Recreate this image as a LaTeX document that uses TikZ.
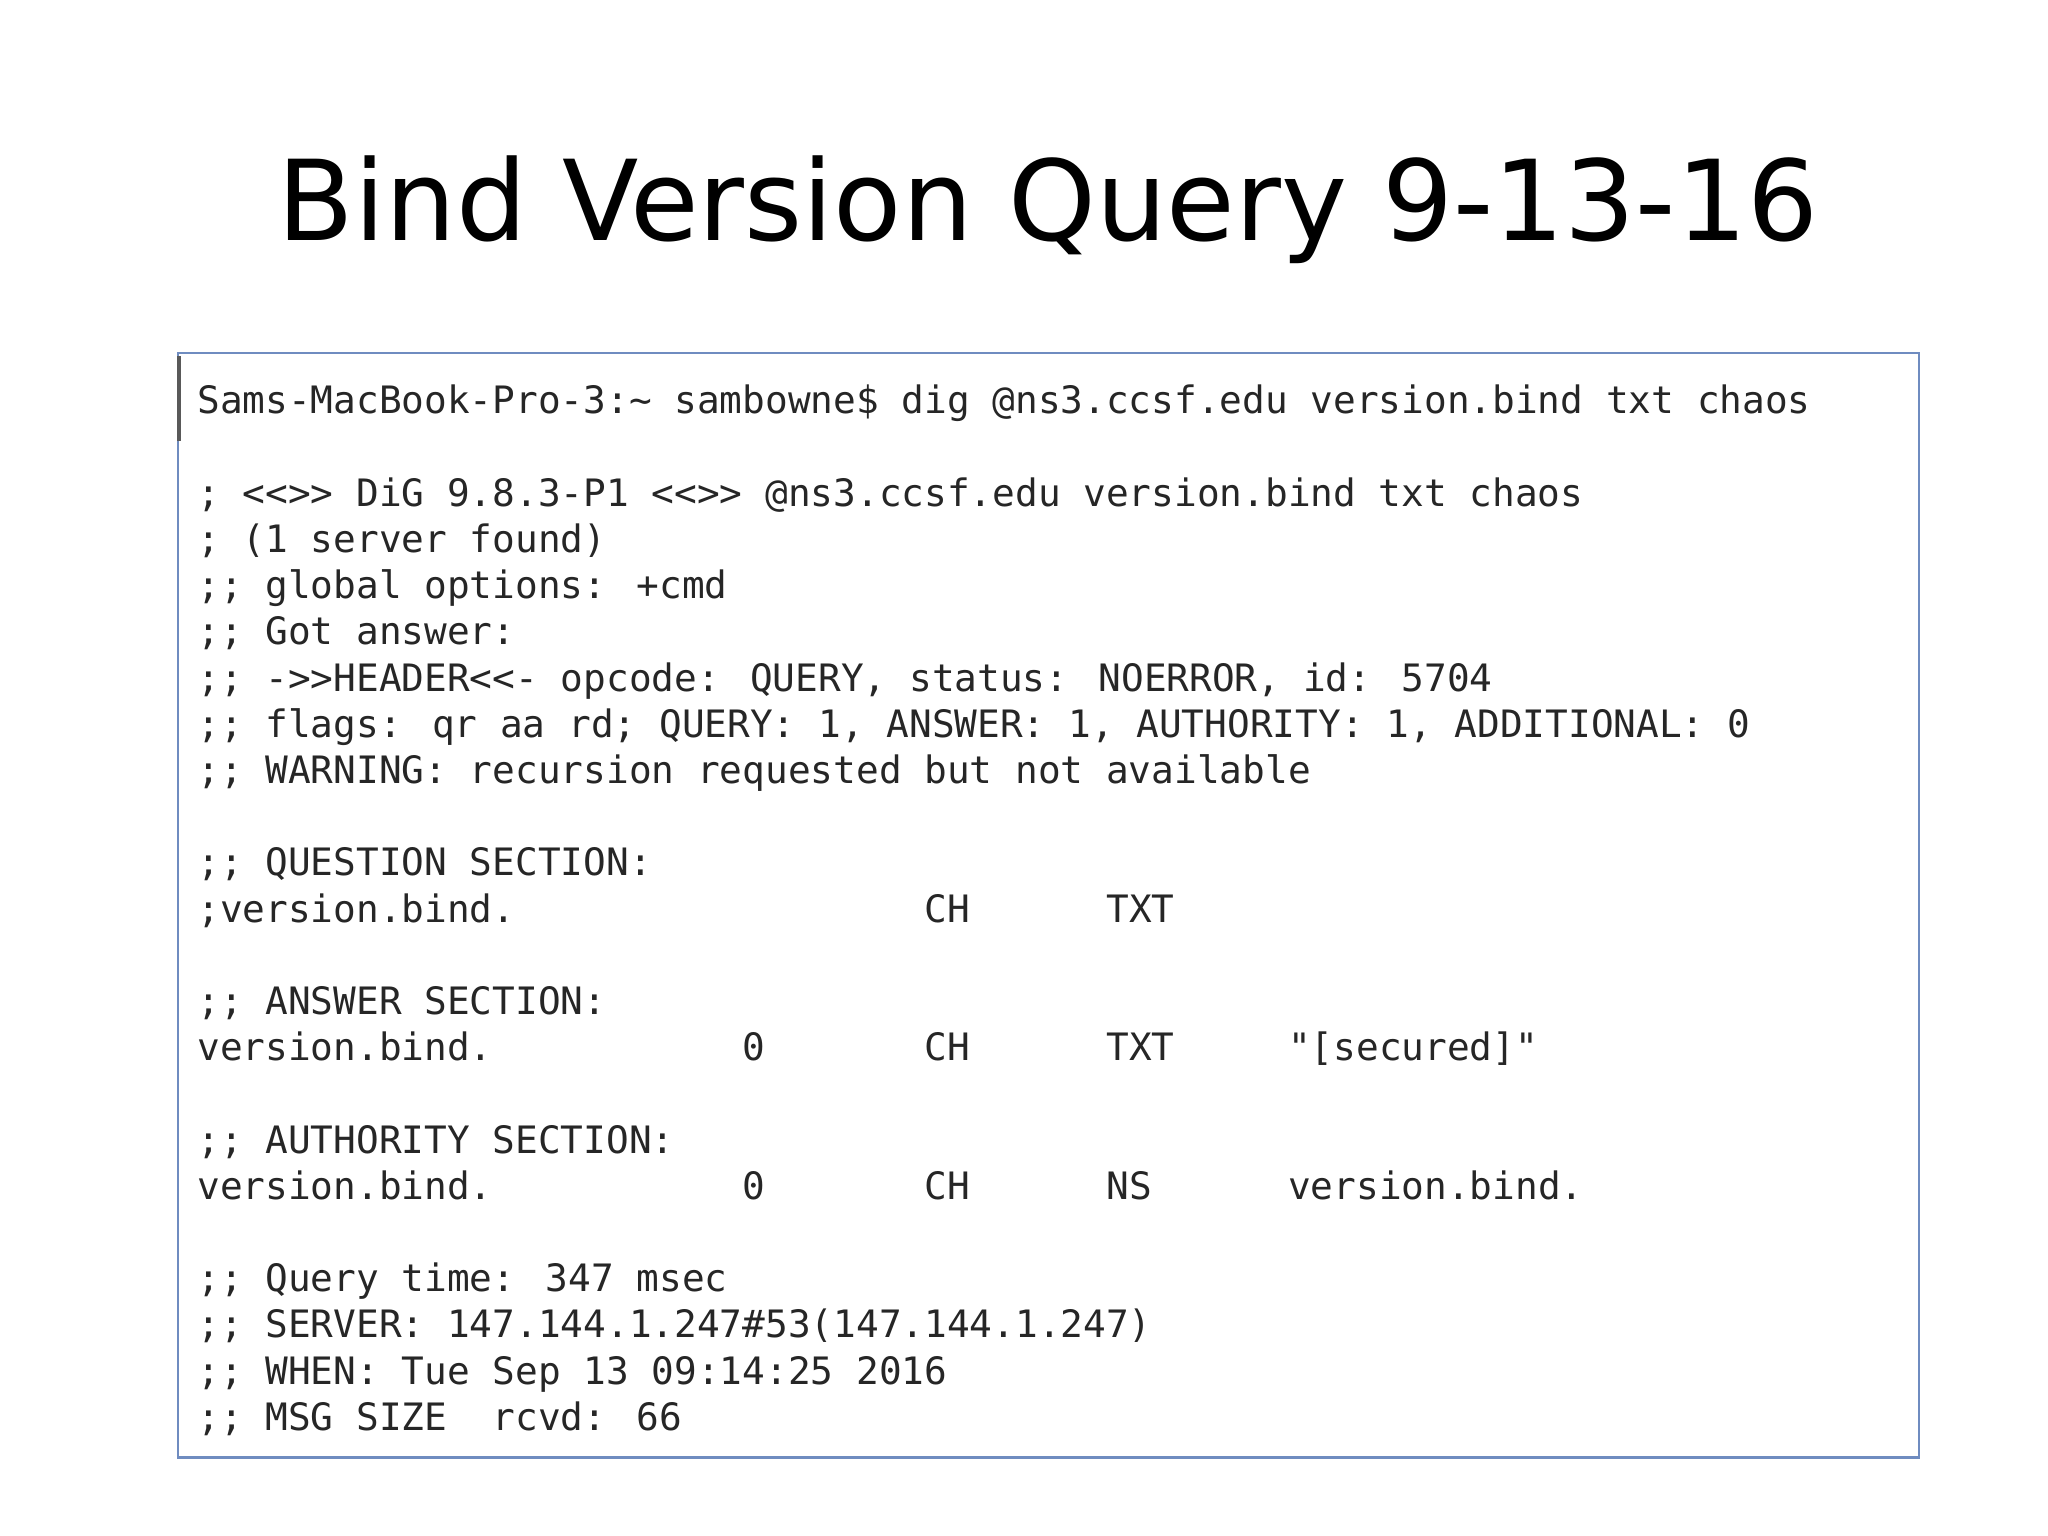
\documentclass[tikz,border=0pt]{standalone}
\usepackage{fontspec}
\setmainfont{DejaVu Sans}
\newfontfamily\monof{DejaVu Sans Mono}
\usepackage{graphicx}
\definecolor{termtxt}{HTML}{262626}
\definecolor{boxedge}{HTML}{6F8CC0}
\begin{document}
\begin{tikzpicture}[x=1cm,y=1cm,
  ln/.style={anchor=base west,inner sep=0pt,text=termtxt,font=\monof\fontsize{10.74pt}{12pt}\selectfont}]
\useasboundingbox (0,0) rectangle (20.48,15.36);
\fill[white] (0,0) rectangle (20.48,15.36);
\node (title) [anchor=base,inner sep=0pt] at (10.48,12.95) {\resizebox{15.4cm}{!}{Bind Version Query 9-13-16}};
\draw[boxedge,line width=0.7pt] (1.778,0.784) rectangle (19.19,11.83);
\draw[gray!70!black,line width=1.2pt] (1.79,10.95) -- (1.79,11.8);
\def\lh{0.462}
\def\yy{11.22}
\foreach \i/\t in {
0/{Sams-MacBook-Pro-3:\textasciitilde{} sambowne\$ dig @ns3.ccsf.edu version.bind txt chaos},
2/{; <<>> DiG 9.8.3-P1 <<>> @ns3.ccsf.edu version.bind txt chaos},
3/{; (1 server found)},
4/{;; global options: +cmd},
5/{;; Got answer:},
6/{;; ->>HEADER<<- opcode: QUERY, status: NOERROR, id: 5704},
7/{;; flags: qr aa rd; QUERY: 1, ANSWER: 1, AUTHORITY: 1, ADDITIONAL: 0},
8/{;; WARNING: recursion requested but not available},
10/{;; QUESTION SECTION:},
11/{;version.bind.~~~~~~~~~~~~~~~~~~CH~~~~~~TXT},
13/{;; ANSWER SECTION:},
14/{version.bind.~~~~~~~~~~~0~~~~~~~CH~~~~~~TXT~~~~~"[secured]"},
16/{;; AUTHORITY SECTION:},
17/{version.bind.~~~~~~~~~~~0~~~~~~~CH~~~~~~NS~~~~~~version.bind.},
19/{;; Query time: 347 msec},
20/{;; SERVER: 147.144.1.247\#53(147.144.1.247)},
21/{;; WHEN: Tue Sep 13 09:14:25 2016},
22/{;; MSG SIZE~~rcvd: 66}}
  \node (l\i) [ln] at (1.966,\yy-\i*\lh) {\t};
\end{tikzpicture}
\end{document}
